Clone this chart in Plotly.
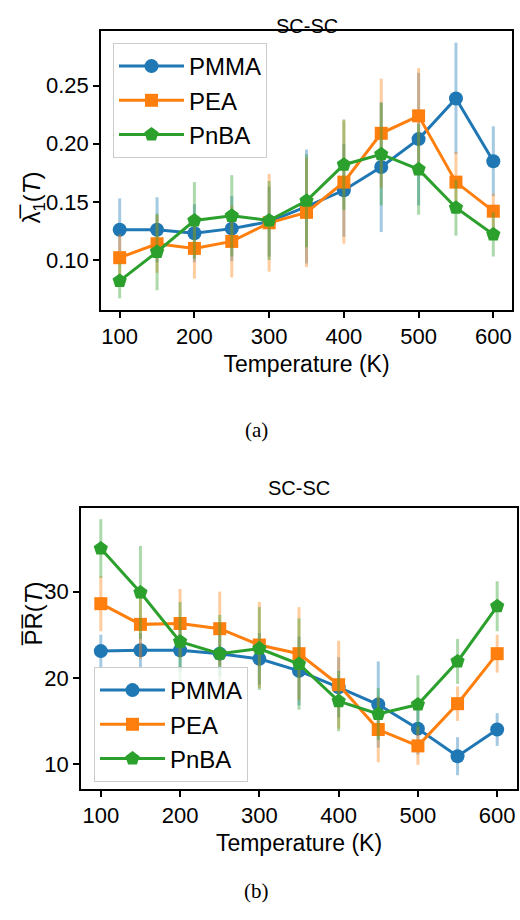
import plotly.graph_objects as go

temps = [100, 150, 200, 250, 300, 350, 400, 450, 500, 550, 600]
series_names = ["PMMA", "PEA", "PnBA"]

# (a) mean lambda_1(T)
lam_pmma = [0.126, 0.126, 0.123, 0.127, 0.133, 0.146, 0.160, 0.180, 0.204, 0.239, 0.185]
lam_pmma_err = [0.027, 0.028, 0.025, 0.028, 0.030, 0.049, 0.040, 0.056, 0.057, 0.048, 0.030]
lam_pea = [0.102, 0.114, 0.110, 0.116, 0.132, 0.141, 0.167, 0.209, 0.224, 0.167, 0.142]
lam_pea_err = [0.020, 0.025, 0.026, 0.031, 0.042, 0.047, 0.053, 0.047, 0.041, 0.026, 0.015]
lam_pnba = [0.082, 0.107, 0.134, 0.138, 0.134, 0.151, 0.182, 0.191, 0.178, 0.145, 0.122]
lam_pnba_err = [0.015, 0.033, 0.033, 0.035, 0.034, 0.040, 0.039, 0.044, 0.039, 0.024, 0.019]

# (b) mean PR(T)
pr_pmma = [23.1, 23.2, 23.2, 22.8, 22.2, 20.8, 18.9, 16.9, 14.1, 10.9, 14.0]
pr_pmma_err = [1.9, 2.0, 2.5, 2.6, 3.0, 4.0, 3.5, 5.0, 3.0, 2.2, 1.9]
pr_pea = [28.6, 26.2, 26.3, 25.7, 23.8, 22.8, 19.2, 14.0, 12.1, 17.0, 22.8]
pr_pea_err = [3.2, 4.0, 4.0, 4.3, 5.0, 5.4, 5.1, 3.8, 2.2, 2.0, 2.2]
pr_pnba = [35.0, 29.9, 24.2, 22.8, 23.4, 21.6, 17.3, 15.8, 16.9, 21.9, 28.3]
pr_pnba_err = [3.4, 5.4, 4.6, 4.5, 4.8, 5.3, 3.5, 3.0, 3.4, 2.6, 2.9]

colors = ["#1f77b4", "#ff7f0e", "#2ca02c"]
err_colors = ["rgba(31,119,180,0.4)", "rgba(255,127,14,0.4)", "rgba(44,160,44,0.4)"]
symbols = ["circle", "square", "pentagon"]
msizes = [14, 13, 15]

FONT = "Liberation Sans"

fig = go.Figure()

top_data = [(lam_pmma, lam_pmma_err), (lam_pea, lam_pea_err), (lam_pnba, lam_pnba_err)]
bot_data = [(pr_pmma, pr_pmma_err), (pr_pea, pr_pea_err), (pr_pnba, pr_pnba_err)]

for i, (vals, errs) in enumerate(top_data):
    fig.add_trace(go.Scatter(
        x=temps, y=vals, name=series_names[i], mode="lines+markers",
        line=dict(color=colors[i], width=3),
        marker=dict(symbol=symbols[i], size=msizes[i], color=colors[i], line=dict(width=0)),
        error_y=dict(type="data", array=errs, visible=True, color=err_colors[i], thickness=3, width=0),
        xaxis="x", yaxis="y", legend="legend",
    ))

for i, (vals, errs) in enumerate(bot_data):
    fig.add_trace(go.Scatter(
        x=temps, y=vals, name=series_names[i], mode="lines+markers",
        line=dict(color=colors[i], width=3),
        marker=dict(symbol=symbols[i], size=msizes[i], color=colors[i], line=dict(width=0)),
        error_y=dict(type="data", array=errs, visible=True, color=err_colors[i], thickness=3, width=0),
        xaxis="x2", yaxis="y2", legend="legend2",
    ))

axis_common = dict(
    showline=True, linecolor="black", linewidth=1.5, mirror=True,
    ticks="outside", ticklen=6, tickwidth=1.5, tickcolor="black",
    showgrid=False, zeroline=False,
    tickfont=dict(family=FONT, size=22, color="black"),
)

W, H = 520, 920

legend_common = dict(
    xanchor="left", yanchor="top",
    bgcolor="rgba(255,255,255,0.8)", bordercolor="#cccccc", borderwidth=1,
    font=dict(family=FONT, size=24, color="black"),
    itemwidth=65, tracegroupgap=0,
)

fig.update_layout(
    width=W, height=H,
    margin=dict(l=0, r=0, t=0, b=0),
    paper_bgcolor="white", plot_bgcolor="white",
    font=dict(family=FONT, color="black"),
    showlegend=True,
    xaxis=dict(domain=[101 / W, 512 / W], range=[75, 625], anchor="y",
               tickvals=[100, 200, 300, 400, 500, 600],
               title=dict(text="Temperature (K)", font=dict(family=FONT, size=23), standoff=8),
               **axis_common),
    yaxis=dict(domain=[1 - 310 / H, 1 - 31 / H], range=[0.057, 0.297], anchor="x",
               tickvals=[0.10, 0.15, 0.20, 0.25], tickformat=".2f",
               **axis_common),
    xaxis2=dict(domain=[81 / W, 517 / W], range=[75, 625], anchor="y2",
                tickvals=[100, 200, 300, 400, 500, 600],
                title=dict(text="Temperature (K)", font=dict(family=FONT, size=23), standoff=8),
                **axis_common),
    yaxis2=dict(domain=[1 - 789 / H, 1 - 508 / H], range=[7.1, 39.7], anchor="x2",
                tickvals=[10, 20, 30],
                **axis_common),
    legend=dict(x=113 / W, y=1 - 43 / H, **legend_common),
    legend2=dict(x=94 / W, y=1 - 667 / H, **legend_common),
)

annotations = [
    dict(text="SC-SC", x=307 / W, y=1 - 13 / H, xref="paper", yref="paper",
         showarrow=False, font=dict(family=FONT, size=20, color="black")),
    dict(text="SC-SC", x=299 / W, y=1 - 488 / H, xref="paper", yref="paper",
         showarrow=False, font=dict(family=FONT, size=20, color="black")),
    dict(text="λ\u0305<sub>1</sub>(<i>T</i>)", x=16 / W, y=1 - 170 / H, xref="paper", yref="paper",
         showarrow=False, textangle=-90, font=dict(family=FONT, size=24, color="black")),
    dict(text="P\u0305R\u0305(<i>T</i>)", x=17 / W, y=1 - 648 / H, xref="paper", yref="paper",
         showarrow=False, textangle=-90, font=dict(family=FONT, size=24, color="black")),
    dict(text="(a)", x=256 / W, y=1 - 430 / H, xref="paper", yref="paper",
         showarrow=False, font=dict(family="Liberation Serif", size=21, color="black")),
    dict(text="(b)", x=256 / W, y=1 - 905 / H, xref="paper", yref="paper",
         showarrow=False, font=dict(family="Liberation Serif", size=21, color="black")),
]
fig.update_layout(annotations=annotations)

fig.write_html("out.html")
